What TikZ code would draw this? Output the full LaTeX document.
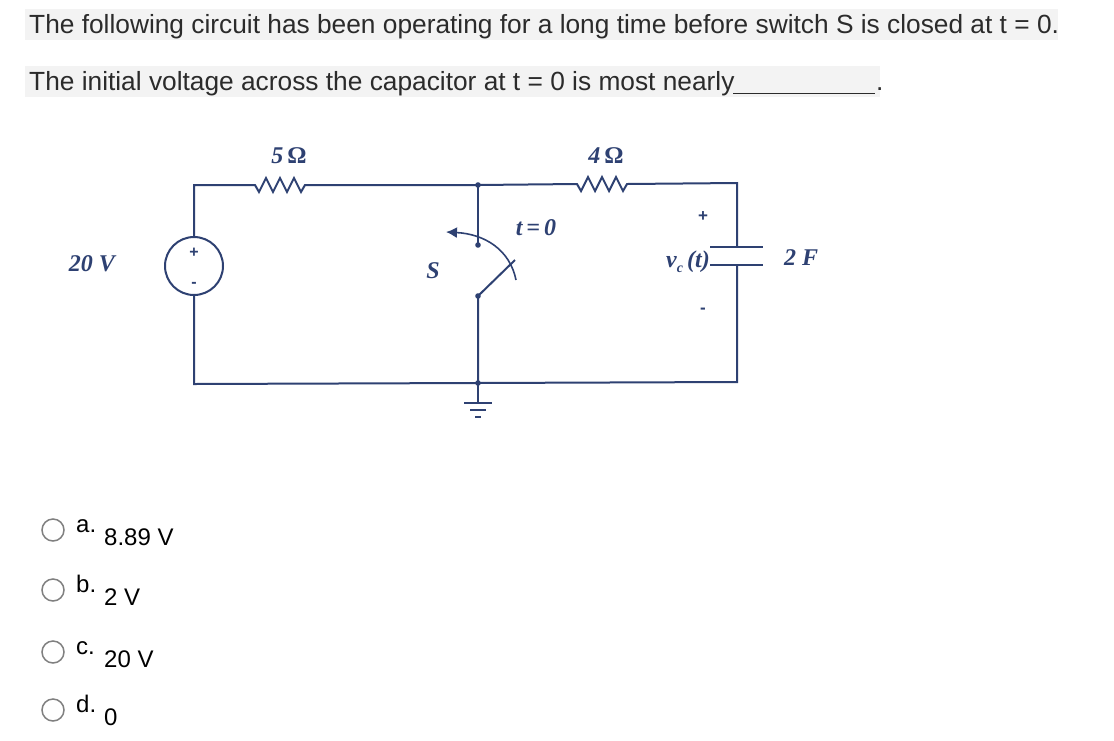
\documentclass[tikz,border=0pt]{standalone}
\usepackage{fontspec}
\setmainfont{Liberation Sans}
\newfontfamily\cirfont{Liberation Serif}
\usetikzlibrary{arrows.meta}
\definecolor{cir}{HTML}{2E4172}
\definecolor{hl}{HTML}{F3F3F3}
\definecolor{txt}{HTML}{2B2B2B}
\begin{document}
\begin{tikzpicture}[x=1pt,y=-1pt,
  wire/.style={draw=cir,line width=2pt},
  lab/.style={text=cir,font=\cirfont\bfseries\itshape\fontsize{24}{24}\selectfont,inner sep=0},
  q/.style={text=txt,font=\fontsize{26.3}{26}\selectfont,inner sep=0,anchor=base west},
  opt/.style={draw=gray,line width=1.5pt},
  ans/.style={text=black,font=\fontsize{24}{24}\selectfont,inner sep=0,anchor=base west}]
\useasboundingbox (0,0) rectangle (1114,740);
\fill[hl] (25,9) rectangle (1058,40);
\fill[hl] (25,66) rectangle (880,97);
\node[q] (q1) at (29,33) {The following circuit has been operating for a long time before switch S is closed at t = 0.};
\node[q] (q2) at (29,90) {The initial voltage across the capacitor at t = 0 is most nearly};
\draw[txt,line width=0.8pt] (733,93) -- (875,93);
\node[q] (dot) at (876,90) {.};
% circuit
\coordinate (tl) at (194,185);
\coordinate (tm) at (478,185);
\coordinate (tr) at (737,183);
\coordinate (bl) at (194,384);
\coordinate (bm) at (478,383);
\coordinate (br) at (737,382);
\node[wire,circle,minimum size=58pt,inner sep=0] (src) at (194,266) {};
\draw[wire] (src.north) -- (tl) -- (255,185)
  -- ++(4,7) -- ++(7,-14) -- ++(7,14) -- ++(7,-14) -- ++(7,14) -- ++(7,-14) -- ++(7,14) -- ++(4,-7) -- (tm);
\draw[wire] (tm) -- (577,184)
  -- ++(4,7) -- ++(7,-14) -- ++(7,14) -- ++(7,-14) -- ++(7,14) -- ++(7,-14) -- ++(7,14) -- ++(4,-7) -- (tr) -- (737,247);
\draw[wire] (710,247) -- (763,247);
\draw[wire] (710,265) -- (763,265);
\draw[wire] (737,265) -- (br) -- (bm) -- (bl) -- (src.south);
\node[text=cir,font=\bfseries\fontsize{16}{16}\selectfont] (sp) at (194,253) {+};
\node[text=cir,font=\bfseries\fontsize{16}{16}\selectfont] (sm) at (194,285) {-};
% switch
\coordinate (sw1) at (478,245);
\coordinate (sw2) at (478,296);
\draw[wire] (tm) -- (sw1);
\draw[wire] (bm) -- (sw2) -- (515,260);
\fill[cir] (tm) circle (2.8pt) (sw1) circle (2.8pt) (sw2) circle (2.8pt) (bm) circle (2.8pt);
\draw[cir,line width=1.6pt,-{Latex[length=11pt,width=11pt]}] (516,280) .. controls (510,250) and (485,234) .. (446,232);
% ground
\draw[wire] (bm) -- (478,403);
\draw[wire] (464,403) -- (492,403);
\draw[wire] (470,410) -- (486,410);
\draw[wire] (475,417) -- (481,417);
% labels
\node[lab] (r1) at (289,156) {5\,{\upshape Ω}};
\node[lab] (r2) at (606,156) {4\,{\upshape Ω}};
\node[lab] (v) at (92,264) {20 V};
\node[lab] (s) at (433,271) {S};
\node[lab] (t0) at (536,228) {t\,=\,0};
\node[lab] (vc) at (688,262) {v\raisebox{-5pt}{\fontsize{14}{14}\selectfont c}\,(t)};
\node[lab] (cf) at (801,258) {2 F};
\node[text=cir,font=\bfseries\fontsize{17}{17}\selectfont] (cp) at (703,217) {+};
\node[text=cir,font=\bfseries\fontsize{17}{17}\selectfont] (cm) at (703,311) {-};
% options
\foreach \y/\l/\v in {530/a./8.89 V,590/b./2 V,652/c./20 V,710/d./0}{
  \draw[opt] (53,\y) circle (11pt);
  \node[ans] at (76,\y+2) {\l};
  \node[ans] at (104,\y+15) {\v};
}
\end{tikzpicture}
\end{document}
